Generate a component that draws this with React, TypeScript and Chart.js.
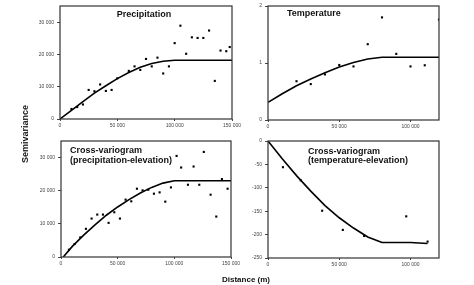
import React, { useEffect, useRef } from "react";
import { Chart, registerables } from "chart.js";

Chart.register(...registerables);

const FONT = "'Liberation Sans', Arial, sans-serif";

// Precipitation semivariogram
const precipLag = [10000, 15000, 20000, 25000, 30000, 35000, 40000, 45000, 50000, 60000, 65000, 70000, 75000, 80000, 85000, 90000, 95000, 100000, 105000, 110000, 115000, 120000, 125000, 130000, 135000, 140000, 145000, 148000];
const precipGamma = [3100, 3700, 4500, 9000, 8600, 10700, 8700, 9000, 12600, 14900, 16300, 15200, 18600, 16300, 19000, 14100, 16300, 23500, 28900, 20200, 25300, 25100, 25100, 27400, 11800, 21200, 21000, 22300];
const precipModelLag = [0, 10000, 20000, 30000, 40000, 50000, 60000, 70000, 80000, 90000, 100000, 150000];
const precipModelGamma = [0, 2700, 5400, 8000, 10300, 12500, 14400, 16000, 17200, 17900, 18200, 18200];
const precipXTicks = [0, 50000, 100000, 150000];
const precipYTicks = [0, 10000, 20000, 30000];

// Temperature semivariogram
const tempLag = [20000, 30000, 40000, 50000, 60000, 70000, 80000, 90000, 100000, 110000, 120000];
const tempGamma = [0.68, 0.63, 0.8, 0.965, 0.94, 1.33, 1.8, 1.16, 0.94, 0.96, 1.76];
const tempModelLag = [0, 10000, 20000, 30000, 40000, 50000, 60000, 70000, 80000, 120000];
const tempModelGamma = [0.31, 0.46, 0.6, 0.72, 0.83, 0.93, 1.01, 1.07, 1.1, 1.1];
const tempXTicks = [0, 50000, 100000];
const tempYTicks = [0, 1, 2];

// Cross-variogram precipitation-elevation
const pelLag = [7000, 12000, 17000, 22000, 27000, 32000, 37000, 42000, 47000, 52000, 57000, 62000, 67000, 72000, 77000, 82000, 87000, 92000, 97000, 102000, 106000, 112000, 117000, 122000, 126000, 132000, 137000, 142000, 147000];
const pelGamma = [2200, 3900, 5900, 8500, 11600, 12800, 12800, 10300, 13500, 11600, 17300, 16800, 20600, 20100, 20300, 19100, 19500, 16700, 21000, 30500, 27000, 21800, 27300, 21800, 31700, 18800, 12200, 23500, 20600];
const pelModelLag = [2000, 10000, 20000, 30000, 40000, 50000, 60000, 70000, 80000, 90000, 100000, 150000];
const pelModelGamma = [0, 3200, 6600, 9700, 12600, 15100, 17300, 19300, 21000, 22300, 23000, 23000];
const pelXTicks = [0, 50000, 100000, 150000];
const pelYTicks = [0, 10000, 20000, 30000];

// Cross-variogram temperature-elevation
const telLag = [10500, 23000, 38000, 52500, 67500, 97000, 112000];
const telGamma = [-56, -84, -149, -190, -203, -161, -215];
const telModelLag = [0, 10000, 20000, 30000, 40000, 50000, 60000, 70000, 80000, 100000, 112000];
const telModelGamma = [0, -38, -74, -107, -138, -164, -186, -205, -217, -217, -219];
const telXTicks = [0, 50000, 100000];
const telYTicks = [0, -50, -100, -150, -200, -250];

const W = 474;
const H = 285;
const Y_AXIS_W = 40;
const X_AXIS_H = 14;

type Panel = {
  box: [number, number, number, number]; // left, top, right, bottom of plot frame
  lag: number[];
  gamma: number[];
  modelLag: number[];
  modelGamma: number[];
  xMax: number;
  yMin: number;
  yMax: number;
  xTicks: number[];
  yTicks: number[];
  title: string[];
  titleX: number;
  titleY: number;
  titleAlign: CanvasTextAlign;
};

const panels: Panel[] = [
  {
    box: [60, 6, 232, 119],
    lag: precipLag, gamma: precipGamma,
    modelLag: precipModelLag, modelGamma: precipModelGamma,
    xMax: 150000, yMin: 0, yMax: 35000,
    xTicks: precipXTicks, yTicks: precipYTicks,
    title: ["Precipitation"], titleX: 84, titleY: 9, titleAlign: "center",
  },
  {
    box: [268, 6, 439, 120],
    lag: tempLag, gamma: tempGamma,
    modelLag: tempModelLag, modelGamma: tempModelGamma,
    xMax: 120000, yMin: 0, yMax: 2,
    xTicks: tempXTicks, yTicks: tempYTicks,
    title: ["Temperature"], titleX: 19, titleY: 8, titleAlign: "left",
  },
  {
    box: [61, 141, 231, 257],
    lag: pelLag, gamma: pelGamma,
    modelLag: pelModelLag, modelGamma: pelModelGamma,
    xMax: 150000, yMin: 0, yMax: 35000,
    xTicks: pelXTicks, yTicks: pelYTicks,
    title: ["Cross-variogram", "(precipitation-elevation)"], titleX: 9, titleY: 10, titleAlign: "left",
  },
  {
    box: [268, 141, 439, 258],
    lag: telLag, gamma: telGamma,
    modelLag: telModelLag, modelGamma: telModelGamma,
    xMax: 120000, yMin: -250, yMax: 0,
    xTicks: telXTicks, yTicks: telYTicks,
    title: ["Cross-variogram", "(temperature-elevation)"], titleX: 40, titleY: 10.5, titleAlign: "left",
  },
];

const fmt = (v: number | string) =>
  String(v).replace(/\B(?=(\d{3})+(?!\d))/g, " ");

const tickFont = { family: FONT, size: 5 };

function makeChart(canvas: HTMLCanvasElement, p: Panel) {
  const [l, t, r, b] = p.box;
  const frame = {
    id: "frame",
    afterDraw(chart: any) {
      const { ctx, chartArea: a } = chart;
      ctx.save();
      ctx.strokeStyle = "#333";
      ctx.lineWidth = 1.2;
      ctx.strokeRect(a.left, a.top, a.right - a.left, a.bottom - a.top);
      ctx.fillStyle = "#111";
      ctx.font = `bold 9px ${FONT}`;
      ctx.textAlign = p.titleAlign;
      ctx.textBaseline = "middle";
      p.title.forEach((line, i) => {
        ctx.fillText(line, a.left + p.titleX, a.top + p.titleY + i * 9.5);
      });
      ctx.restore();
    },
  };

  return new Chart(canvas, {
    type: "scatter",
    data: {
      datasets: [
        {
          data: p.modelLag.map((x, i) => ({ x, y: p.modelGamma[i] })),
          showLine: true,
          borderColor: "#000",
          borderWidth: 1.6,
          pointRadius: 0,
          tension: 0,
          order: 2,
        },
        {
          data: p.lag.map((x, i) => ({ x, y: p.gamma[i] })),
          showLine: false,
          pointStyle: "rect",
          pointRadius: 1.5,
          backgroundColor: "#000",
          borderColor: "#000",
          borderWidth: 0,
          order: 1,
        },
      ],
    },
    options: {
      animation: false,
      responsive: false,
      events: [],
      devicePixelRatio: 1,
      layout: {
        padding: {
          left: l - Y_AXIS_W,
          top: t,
          right: W - r,
          bottom: H - b - X_AXIS_H,
        },
      },
      plugins: {
        legend: { display: false },
        tooltip: { enabled: false },
      },
      scales: {
        x: {
          type: "linear",
          min: 0,
          max: p.xMax,
          afterBuildTicks: (s: any) => {
            s.ticks = p.xTicks.map((v) => ({ value: v }));
          },
          afterFit: (s: any) => {
            s.height = X_AXIS_H;
          },
          ticks: {
            font: tickFont,
            color: "#444",
            padding: 2,
            maxRotation: 0,
            autoSkip: false,
            callback: (v: any) => fmt(v),
          },
          grid: { drawOnChartArea: false, tickLength: 2, color: "#444" },
          border: { display: false },
        },
        y: {
          type: "linear",
          min: p.yMin,
          max: p.yMax,
          afterBuildTicks: (s: any) => {
            s.ticks = p.yTicks.map((v) => ({ value: v }));
          },
          afterFit: (s: any) => {
            s.width = Y_AXIS_W;
          },
          ticks: {
            font: tickFont,
            color: "#444",
            padding: 3,
            autoSkip: false,
            callback: (v: any) => fmt(v),
          },
          grid: { drawOnChartArea: false, tickLength: 3, color: "#444" },
          border: { display: false },
        },
      },
    },
    plugins: [frame],
  } as any);
}

function Panel({ p }: { p: Panel }) {
  const ref = useRef<HTMLCanvasElement | null>(null);
  useEffect(() => {
    if (!ref.current) return;
    const chart = makeChart(ref.current, p);
    return () => chart.destroy();
  }, [p]);
  return (
    <canvas
      ref={ref}
      width={W}
      height={H}
      style={{ position: "absolute", left: 0, top: 0, width: W, height: H }}
    />
  );
}

export default function App() {
  return (
    <div
      style={{
        position: "absolute",
        left: 0,
        top: 0,
        width: W,
        height: H,
        background: "#fff",
        overflow: "hidden",
      }}
    >
      {panels.map((p, i) => (
        <Panel key={i} p={p} />
      ))}
      <div
        style={{
          position: "absolute",
          left: 25,
          top: 134,
          transform: "translate(-50%, -50%) rotate(-90deg)",
          font: `bold 9px ${FONT}`,
          color: "#111",
          whiteSpace: "nowrap",
        }}
      >
        Semivariance
      </div>
      <div
        style={{
          position: "absolute",
          left: 246,
          top: 279,
          transform: "translate(-50%, -50%)",
          font: `bold 8px ${FONT}`,
          color: "#111",
          whiteSpace: "nowrap",
        }}
      >
        Distance (m)
      </div>
    </div>
  );
}
